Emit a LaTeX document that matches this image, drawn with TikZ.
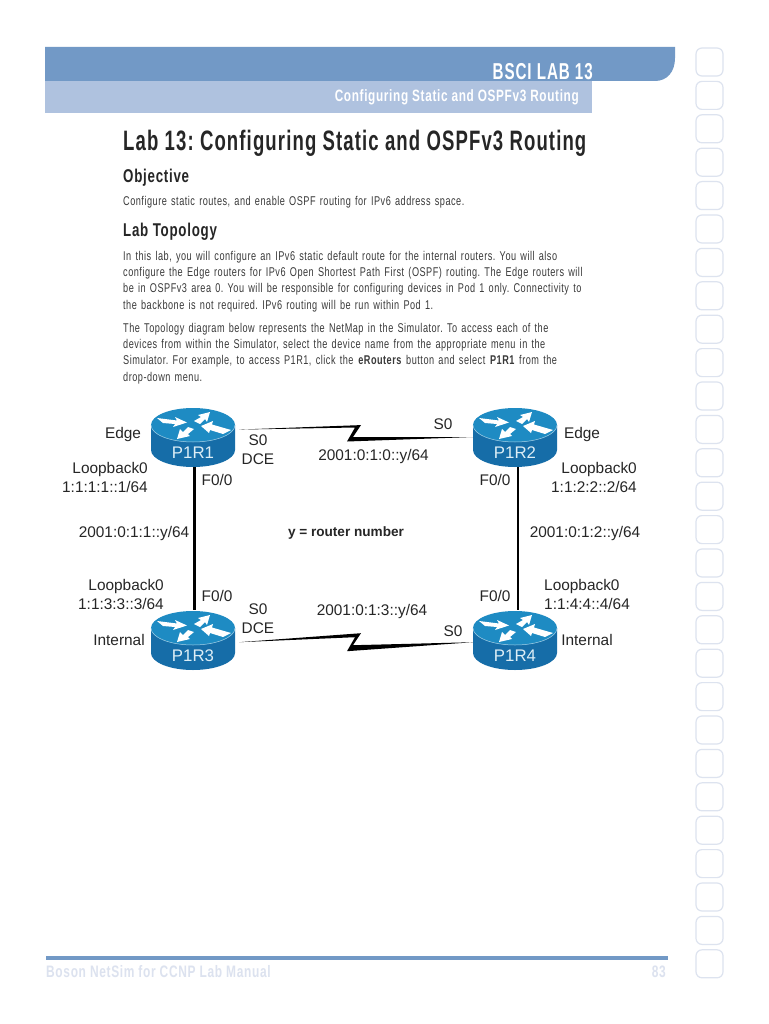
\documentclass[tikz,border=0pt]{standalone}
\usepackage{fontspec}
\setmainfont{Liberation Sans}
\newfontfamily\condfont[FakeStretch=0.72,LetterSpace=4]{Liberation Sans}
\newfontfamily\narrowfont[FakeStretch=0.66,LetterSpace=4]{Liberation Sans}
\usepackage{tikz}
\usetikzlibrary{arrows.meta, positioning, calc}
\definecolor{bandblue}{HTML}{7299C6}
\definecolor{paleblue}{HTML}{AFC2DF}
\definecolor{tabline}{HTML}{DDE3EF}
\definecolor{footgrey}{HTML}{DCE2EF}
\definecolor{routertop}{HTML}{1E8BC3}
\definecolor{routerside}{HTML}{166DA8}
\definecolor{bodytext}{HTML}{3A3A3A}

\tikzset{
    lbl/.style={font=\fontsize{15.4}{19}\selectfont,text=black!85,inner sep=0pt,align=center},
    bodytxt/.style={font=\condfont\fontsize{12.7}{16.2}\selectfont,text=bodytext,inner sep=0pt,anchor=north west,align=left,text width=500pt},
    heading/.style={font=\condfont\bfseries\fontsize{18.5}{20}\selectfont,text=black!85,inner sep=0pt,anchor=west},
    tab/.style={draw=tabline,line width=1.2pt,rounded corners=6pt,fill=white},
    routerbox/.style={minimum width=84pt,minimum height=60pt,inner sep=0pt,outer sep=0pt},
    routertxt/.style={font=\fontsize{16.8}{18}\selectfont,text=white!85!routertop,inner sep=0pt},
    lan/.style={line width=3pt,black},
    lanthin/.style={line width=2.5pt,black},
    serial/.style={fill=black},
    wing/.style={fill=white},
    router/.pic={
        \fill[routerside] (-42,-12) -- (-42,13) arc[start angle=180,end angle=0,x radius=42,y radius=17] -- (42,-12) -- cycle;
        \fill[routertop] (0,-12) ellipse[x radius=42,y radius=17];
        \draw[white!60!routertop,line width=0.5pt] (-42,-12) arc[start angle=180,end angle=0,x radius=42,y radius=17];
        % the four arrows on the lid
        \fill[wing] (-36,-19) -- (-16,-16.5) -- (-18,-20) -- (-6,-14.5) -- (-20,-10) -- (-18,-13) -- (-30,-14) -- cycle;
        \fill[wing] (1,-16) -- (8,-20) -- (5,-22) -- (17,-25) -- (14,-15) -- (12,-18) -- (7,-13) -- cycle;
        \fill[wing] (8,-11) -- (20,-16) -- (19,-12.5) -- (38,-7) -- (30,-3) -- (17,-7) -- (16,-4) -- cycle;
        \fill[wing] (-16,2) -- (-13,-8) -- (-10,-5) -- (-5,-10) -- (1,-8) -- (-5,-3) -- (-3,-1) -- cycle;
        \node[routerbox] (box) at (0,0) {};
        \node[routertxt] (name) at (0,16) {#1};
    },
}

\newcommand{\seriallink}[3]{
    \fill[serial] ([xshift=4pt]#1) -- ++(122,-#3) -- ++(-8,12) -- (#2) -- ++(-126,#3) -- ++(8,-14) -- cycle;
}

\begin{document}
\frenchspacing
\begin{tikzpicture}[x=1pt,y=-1pt]
    \useasboundingbox (0,0) rectangle (768,1024);
    \fill[white] (0,0) rectangle (768,1024);

    % header
    \fill[bandblue] (45,47) -- (675,47) -- (675,58) .. controls (675,72) and (667,81) .. (655,81) -- (45,81) -- cycle;
    \fill[paleblue] (45,81) rectangle (592,113);
    \node[font=\narrowfont\bfseries\fontsize{23}{25}\selectfont,text=white,inner sep=0pt,anchor=east] (labno) at (593,72) {BSCI LAB 13};
    \node[font=\condfont\bfseries\fontsize{16.4}{18}\selectfont,text=white,inner sep=0pt,anchor=east] (subhead) at (579,97) {Configuring Static and OSPFv3 Routing};

    % text
    \node[font=\narrowfont\bfseries\fontsize{28.1}{30}\selectfont,text=black!85,inner sep=0pt,anchor=west] (title) at (123,143) {Lab 13: Configuring Static and OSPFv3 Routing};
    \node[heading] (objective) at (123,178) {Objective};
    \node[bodytxt] (objtext) at (123,196) {Configure static routes, and enable OSPF routing for IPv6 address space.};
    \node[heading] (topology) at (123,232) {Lab Topology};
    \node[bodytxt] (para1) at (123,251) {In this lab, you will configure an IPv6 static default route for the internal routers. You will also\\configure the Edge routers for IPv6 Open Shortest Path First (OSPF) routing. The Edge routers will\\be in OSPFv3 area 0. You will be responsible for configuring devices in Pod 1 only. Connectivity to\\the backbone is not required. IPv6 routing will be run within Pod 1.};
    \node[bodytxt] (para2) at (123,323) {The Topology diagram below represents the NetMap in the Simulator. To access each of the\\devices from within the Simulator, select the device name from the appropriate menu in the\\Simulator. For example, to access P1R1, click the \textbf{eRouters} button and select \textbf{P1R1} from the\\drop-down menu.};

    % routers
    \pic (r1) at (193,437) {router=P1R1};
    \pic (r2) at (515,437) {router=P1R2};
    \pic (r3) at (193,640) {router=P1R3};
    \pic (r4) at (515,640) {router=P1R4};

    % links
    \draw[lan] ([xshift=1pt]r1box.south) -- ([xshift=1pt]r3box.north);
    \draw[lanthin] ([xshift=3pt]r2box.south) -- ([xshift=3pt]r4box.north);
    \seriallink{r1box.10}{r2box.west}{4.5}
    \seriallink{r3box.-3}{r4box.183}{9}

    % labels
    \node[lbl] (edge1) at (123,435) {Edge};
    \node[lbl,align=right,anchor=east] (loop1) at (148,477) {Loopback0\\1:1:1:1::1/64};
    \node[lbl] (s01) at (258,450) {S0\\DCE};
    \node[lbl] (f01) at (217,480) {F0/0};
    \node[lbl] (net0) at (373.5,457) {2001:0:1:0::y/64};
    \node[lbl] (s02) at (443,424) {S0};
    \node[lbl] (edge2) at (582,435) {Edge};
    \node[lbl,align=right,anchor=east] (loop2) at (637,477) {Loopback0\\1:1:2:2::2/64};
    \node[lbl] (f02) at (495,480) {F0/0};
    \node[lbl] (net1) at (134,534) {2001:0:1:1::y/64};
    \node[lbl,font=\bfseries\fontsize{13.6}{16}\selectfont] (note) at (346,533) {y = router number};
    \node[lbl] (net2) at (585,534) {2001:0:1:2::y/64};
    \node[lbl,align=right,anchor=east] (loop3) at (164,594) {Loopback0\\1:1:3:3::3/64};
    \node[lbl] (f03) at (217,596) {F0/0};
    \node[lbl] (s03) at (258,619) {S0\\DCE};
    \node[lbl] (net3) at (372,612) {2001:0:1:3::y/64};
    \node[lbl] (f04) at (495,596) {F0/0};
    \node[lbl,align=left,anchor=west] (loop4) at (544,594) {Loopback0\\1:1:4:4::4/64};
    \node[lbl] (s04) at (453,631) {S0};
    \node[lbl] (int3) at (119,640) {Internal};
    \node[lbl] (int4) at (587,640) {Internal};

    % footer
    \fill[bandblue] (46,956) rectangle (668,960);
    \node[font=\condfont\bfseries\fontsize{16.6}{18}\selectfont,text=footgrey,inner sep=0pt,anchor=west] (foot) at (46,972) {Boson NetSim for CCNP Lab Manual};
    \node[font=\condfont\bfseries\fontsize{16.6}{18}\selectfont,text=footgrey,inner sep=0pt,anchor=east] (pageno) at (666,972) {83};

    % side tabs
    \foreach \i in {0,...,27}
        \draw[tab] (696,48+\i*33.4) rectangle ++(27,28);
\end{tikzpicture}
\end{document}
